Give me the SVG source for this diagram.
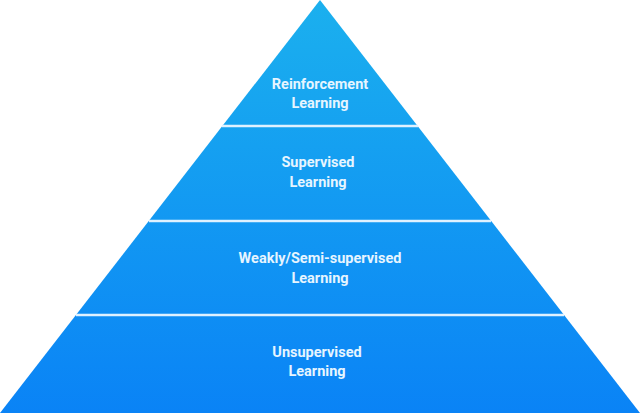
<svg xmlns="http://www.w3.org/2000/svg" width="640" height="413" viewBox="0 0 640 413">
<style>
.t{font-family:Roboto,"Liberation Sans",sans-serif;font-weight:bold;font-size:14.5px;fill:#e6f5ff;text-anchor:middle}
.sep{stroke:#dff1ff;stroke-width:2.5}
</style>
<defs>
<linearGradient id="g" x1="0" y1="0" x2="0" y2="413" gradientUnits="userSpaceOnUse">
<stop offset="0" stop-color="#1bb0ee"/>
<stop offset="1" stop-color="#0a83f6"/>
</linearGradient>
</defs>
<rect width="640" height="413" fill="#fff"/>
<polygon points="320,0 640,413 0,413" fill="url(#g)"/>
<g id="connectors">
<line class="sep" x1="222" y1="126" x2="418" y2="126"/>
<line class="sep" x1="149" y1="221" x2="491" y2="221"/>
<line class="sep" x1="76" y1="315" x2="564" y2="315"/>
</g>
<g id="reinforcement"><text class="t" x="320" y="89">Reinforcement</text><text class="t" x="320" y="108">Learning</text></g>
<g id="supervised"><text class="t" x="318" y="167">Supervised</text><text class="t" x="318" y="187">Learning</text></g>
<g id="weakly"><text class="t" x="320" y="263">Weakly/Semi-supervised</text><text class="t" x="320" y="283">Learning</text></g>
<g id="unsupervised"><text class="t" x="317" y="357">Unsupervised</text><text class="t" x="317" y="376">Learning</text></g>
</svg>
